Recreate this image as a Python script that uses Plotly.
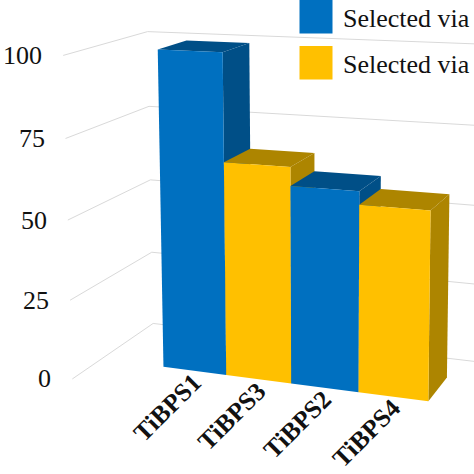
"""
3D looking bar chart (Excel style), drawn on a flat axis through a fitted
perspective projection of (category edge, depth, value).
"""

import numpy as np
import plotly.graph_objects as go

categories = ["TiBPS1", "TiBPS3", "TiBPS2", "TiBPS4"]
values = [100, 66.7, 61, 57]
groups = [0, 1, 0, 1]
y_ticks = [0, 25, 50, 75, 100]
legend_labels = ["Selected via", "Selected via"]

front_colors = ["#0070C0", "#FFC000"]
side_colors = ["#004F87", "#AD8500"]
grid_color = "#D9D9D9"

# walls, in units of bar width / bar depth
WALL_LEFT = -1.02
WALL_FRONT = -0.92
WALL_BACK = 1.8
WALL_RIGHT = 7

# camera fit: (category edge, depth, value) -> pixel on the 474x474 picture
camera_points = [
    (0, 0, 0, 164, 367.5), (1, 0, 0, 227, 375), (2, 0, 0, 291, 383.7),
    (3, 0, 0, 358.7, 392.7), (4, 0, 0, 427, 401), (4, 1, 0, 445, 378.7),
    (0, 0, 100, 156, 50.5), (1, 0, 100, 222, 54),
    (0, 1, 100, 186, 41), (1, 1, 100, 249, 44.5),
    (1, 0, 66.7, 224, 161), (2, 0, 66.7, 290.7, 165),
    (2, 1, 66.7, 315.3, 151.7), (1, 1, 66.7, 250, 146.7),
    (2, 0, 61, 291, 185.5), (3, 0, 61, 360, 190.7),
    (3, 1, 61, 381.7, 176), (2, 1, 61, 316, 170.7),
    (3, 0, 57, 359.7, 205), (4, 0, 57, 431, 210.7),
    (4, 1, 57, 449.7, 195), (3, 1, 57, 380, 189.3),
]


def fit_camera(points):
    rows, rhs = [], []
    for u, d, v, px, py in points:
        rows.append([u, d, v, 1, 0, 0, 0, 0, -px * u, -px * d, -px * v])
        rhs.append(px)
        rows.append([0, 0, 0, 0, u, d, v, 1, -py * u, -py * d, -py * v])
        rhs.append(py)
    sol = np.linalg.lstsq(np.array(rows, float), np.array(rhs, float), rcond=None)[0]
    return np.append(sol, 1).reshape(3, 4)


CAMERA = fit_camera(camera_points)


def project(u, d, v):
    x, y, w = CAMERA @ np.array([u, d, v, 1.0])
    return x / w, y / w


def face(corners, color):
    pts = [project(*c) for c in corners]
    return go.Scatter(
        x=[p[0] for p in pts], y=[p[1] for p in pts],
        mode="lines", fill="toself", fillcolor=color,
        line=dict(width=0), hoverinfo="skip", showlegend=False,
    )


fig = go.Figure()

# Gridlines on the two walls
for tick in y_ticks:
    pts = [project(WALL_LEFT, WALL_FRONT, tick),
           project(WALL_LEFT, WALL_BACK, tick),
           project(WALL_RIGHT, WALL_BACK, tick)]
    fig.add_trace(go.Scatter(
        x=[p[0] for p in pts], y=[p[1] for p in pts], mode="lines",
        line=dict(color=grid_color, width=1), hoverinfo="skip", showlegend=False,
    ))
    fig.add_annotation(
        x=pts[0][0] - 19, y=pts[0][1], text=str(tick), showarrow=False,
        xanchor="right", yanchor="middle",
        font=dict(family="Liberation Serif", size=26, color="#111111"),
    )

# Bars, left to right so each front covers the side of the previous one
for i, (name, val, grp) in enumerate(zip(categories, values, groups)):
    fig.add_trace(face([(i + 1, 0, 0), (i + 1, 1, 0), (i + 1, 1, val), (i + 1, 0, val)],
                       side_colors[grp]))
    fig.add_trace(face([(i, 0, val), (i + 1, 0, val), (i + 1, 1, val), (i, 1, val)],
                       side_colors[grp]))
    fig.add_trace(face([(i, 0, 0), (i + 1, 0, 0), (i + 1, 0, val), (i, 0, val)],
                       front_colors[grp]))
    bx, by = project(i + 0.5, 0, 0)
    fig.add_annotation(
        x=bx - 27, y=by + 37, text=f"<b>{name}</b>", showarrow=False, textangle=-45,
        font=dict(family="Liberation Serif", size=25.5, color="#111111"),
    )

# Legend, cut off on the right like the original
for k, label in enumerate(legend_labels):
    top = 46 * k
    fig.add_shape(type="rect", x0=299.5, x1=332.5, y0=top, y1=top + 33.5,
                  fillcolor=front_colors[k], line_width=0)
    fig.add_annotation(
        x=341, y=top + 18, text=label, showarrow=False, xanchor="left",
        font=dict(family="Liberation Serif", size=26, color="#111111"),
    )

fig.update_layout(
    width=474, height=474,
    margin=dict(l=0, r=0, t=0, b=0),
    paper_bgcolor="white", plot_bgcolor="white",
    showlegend=False,
    xaxis=dict(range=[0, 474], visible=False),
    yaxis=dict(range=[474, 0], visible=False),
)

# page body has a default margin that would push the chart off by 8px
fig.write_html("out.html", post_script="document.body.style.margin='0';",
               config=dict(displayModeBar=False))
